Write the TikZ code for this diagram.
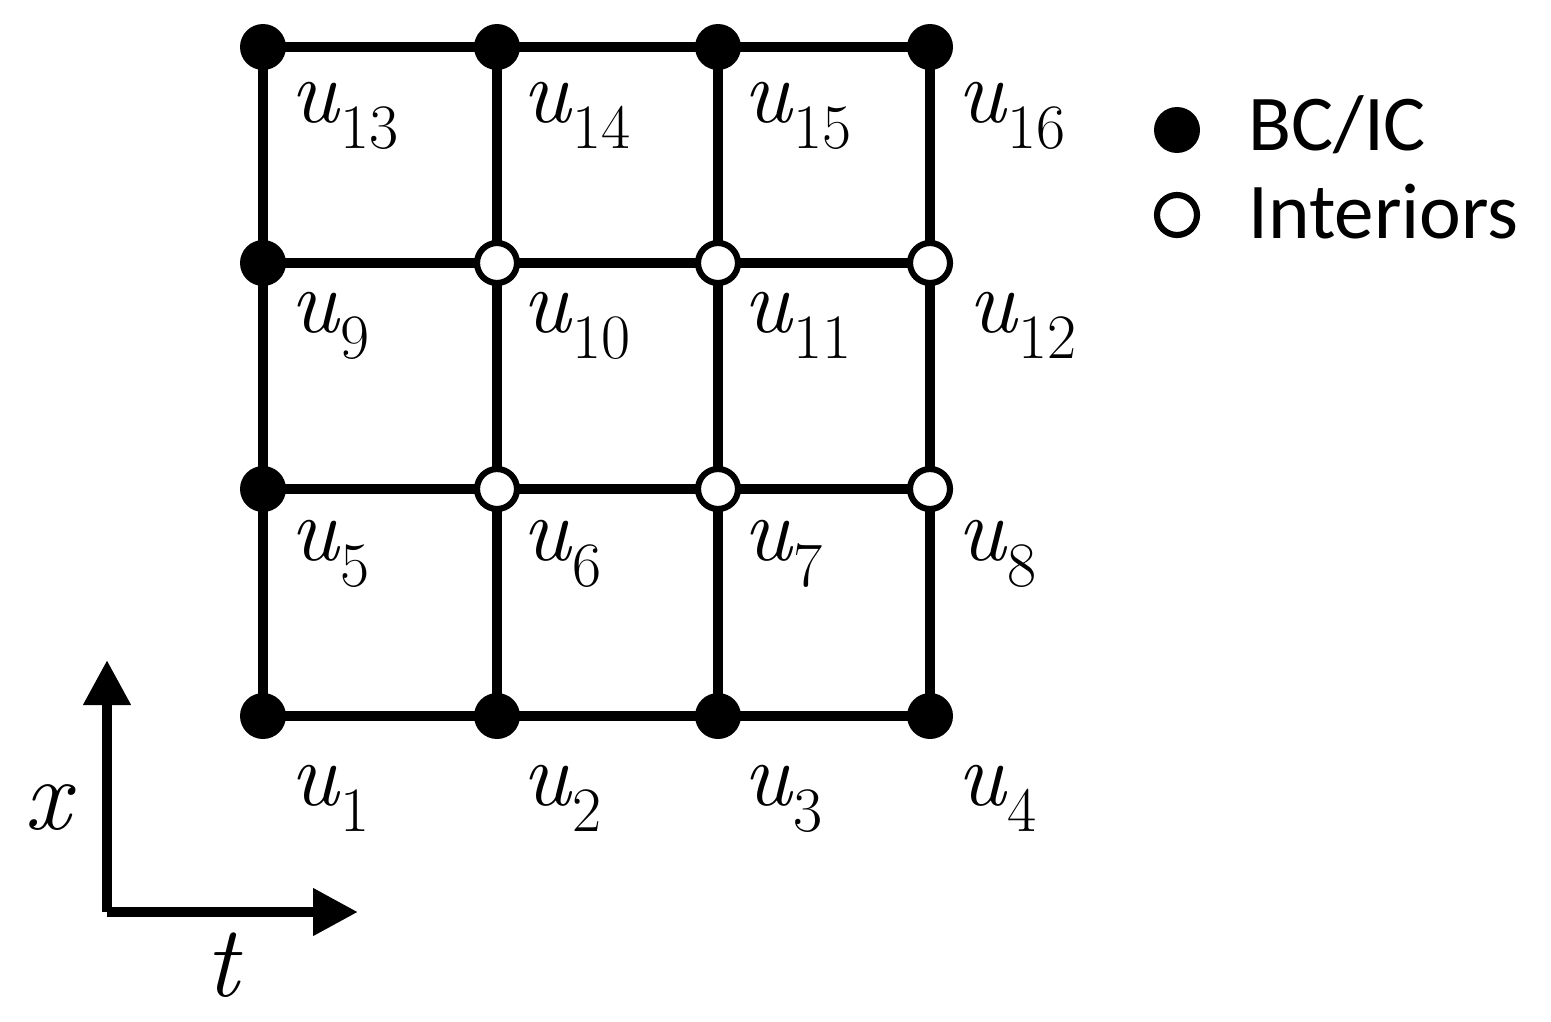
\documentclass[tikz,border=0pt]{standalone}
\usepackage{fontspec}
\setsansfont{Carlito}
\usetikzlibrary{arrows.meta}
\newcommand{\ulab}[1]{\textit{u}\raisebox{-0.28em}{\fontsize{36}{38}\selectfont #1}}
\begin{document}
\begin{tikzpicture}[x=0.02cm,y=-0.02cm,
  edge/.style={line width=6pt},
  bc/.style={circle,fill=black,minimum size=0.92cm,inner sep=0pt},
  inn/.style={circle,fill=white,draw=black,line width=3.5pt,minimum size=0.8cm,inner sep=0pt},
  lab/.style={anchor=north west,inner sep=0pt,font=\fontsize{52}{54}\selectfont},
  leg/.style={anchor=west,inner sep=0pt,font=\sffamily\fontsize{45}{48}\selectfont}]
\useasboundingbox (0,0) rectangle (1551,1021);
% grid lines
\foreach \y in {47,263,489,716} \draw[edge] (263,\y) -- (930,\y);
\foreach \x in {263,497,718,930} \draw[edge] (\x,47) -- (\x,716);
% nodes
\node[bc] (n1) at (263,716) {};
\node[bc] (n2) at (497,716) {};
\node[bc] (n3) at (718,716) {};
\node[bc] (n4) at (930,716) {};
\node[bc] (n5) at (263,489) {};
\node[inn] (n6) at (497,489) {};
\node[inn] (n7) at (718,489) {};
\node[inn] (n8) at (930,489) {};
\node[bc] (n9) at (263,263) {};
\node[inn] (n10) at (497,263) {};
\node[inn] (n11) at (718,263) {};
\node[inn] (n12) at (930,263) {};
\node[bc] (n13) at (263,47) {};
\node[bc] (n14) at (497,47) {};
\node[bc] (n15) at (718,47) {};
\node[bc] (n16) at (930,47) {};
% labels
\node[lab] (l1) at (290,765) {\ulab{1}};
\node[lab] (l2) at (522,765) {\ulab{2}};
\node[lab] (l3) at (743,765) {\ulab{3}};
\node[lab] (l4) at (957,765) {\ulab{4}};
\node[lab] (l5) at (290,520) {\ulab{5}};
\node[lab] (l6) at (522,520) {\ulab{6}};
\node[lab] (l7) at (743,520) {\ulab{7}};
\node[lab] (l8) at (957,520) {\ulab{8}};
\node[lab] (l9) at (290,292) {\ulab{9}};
\node[lab] (l10) at (522,292) {\ulab{10}};
\node[lab] (l11) at (743,292) {\ulab{11}};
\node[lab] (l12) at (968,292) {\ulab{12}};
\node[lab] (l13) at (290,82) {\ulab{13}};
\node[lab] (l14) at (522,82) {\ulab{14}};
\node[lab] (l15) at (743,82) {\ulab{15}};
\node[lab] (l16) at (957,82) {\ulab{16}};
% axes
\coordinate (o) at (107,912);
\coordinate (xa) at (107,660);
\coordinate (ta) at (358,912);
\draw[edge,-{Triangle[length=0.9cm,width=0.9cm]}] (o) -- (xa);
\draw[edge,-{Triangle[length=0.9cm,width=0.9cm]}] (o) -- (ta);
\node[font=\fontsize{58}{60}\selectfont\itshape] (xl) at (47,808) {x};
\node[font=\fontsize{58}{60}\selectfont\itshape] (tl) at (222,965) {t};
% legend
\node[bc] (lb) at (1177,130) {};
\node[inn] (li) at (1177,215) {};
\node[leg] (tb) at (1248,125) {BC/IC};
\node[leg] (ti) at (1248,212) {Interiors};
\end{tikzpicture}
\end{document}
